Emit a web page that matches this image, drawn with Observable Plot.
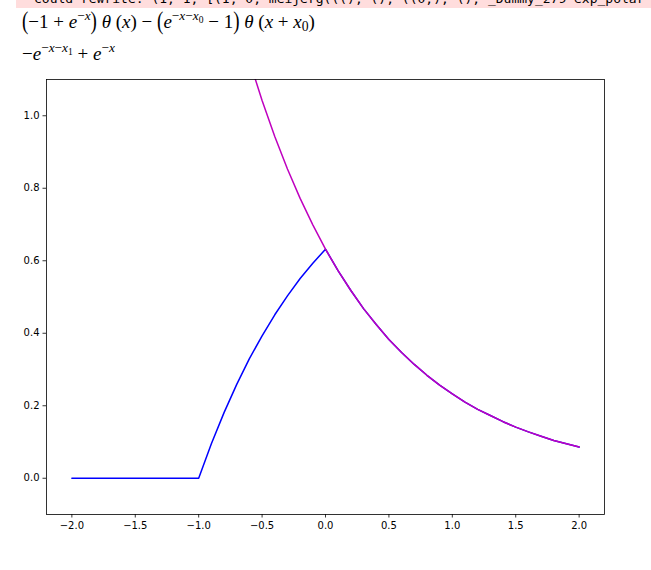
<!DOCTYPE html>
<html>
<head>
<meta charset="utf-8">
<script src="https://cdn.jsdelivr.net/npm/d3@7"></script>
<script src="https://cdn.jsdelivr.net/npm/@observablehq/plot@0.6"></script>
<style>
  html, body { margin: 0; padding: 0; background: #fff; }
  #wrap { position: relative; width: 651px; height: 570px; overflow: hidden; }
  #err { position: absolute; left: 16px; top: 0; width: 640px; height: 8px; background: #fdd; overflow: hidden; }
  #err span { position: absolute; left: 18px; top: -9px; font-family: "DejaVu Sans Mono", monospace; font-size: 13px; white-space: pre; color: #000; line-height: 15px; }
  .math { position: absolute; left: 22px; font-family: "Liberation Serif", "DejaVu Serif", serif; font-size: 19px; white-space: nowrap; color: #000; line-height: 22px; }
  .math i { font-style: italic; }
  .math sup { font-size: 0.7em; vertical-align: 0.6em; line-height: 0; }
  .math sup sub { font-size: 0.72em; vertical-align: -0.3em; line-height: 0; }
  .math sub { font-size: 0.72em; vertical-align: -0.25em; line-height: 0; }
  .math .p { display: inline-block; transform: scaleY(1.3); transform-origin: 50% 60%; font-size: 1.0em; }
  #m1 { top: 11px; }
  #m2 { top: 43px; }
  #chart { position: absolute; left: 0; top: 70px; }
</style>
</head>
<body>
<div id="wrap">
  <div id="err"><span>could rewrite: (1, 1, [(1, 0, meijerg(((), (), ((0,), (), _Dummy_279 exp_polar</span></div>
  <div class="math" id="m1"><span class="p">(</span>−1 + <i>e</i><sup>−<i>x</i></sup><span class="p">)</span> <i>θ</i> (<i>x</i>) − <span class="p">(</span><i>e</i><sup>−<i>x</i>−<i>x</i><sub>0</sub></sup> − 1<span class="p">)</span> <i>θ</i> (<i>x</i> + <i>x</i><sub>0</sub>)</div>
  <div class="math" id="m2">−<i>e</i><sup>−<i>x</i>−<i>x</i><sub>1</sub></sup> + <i>e</i><sup>−<i>x</i></sup></div>
  <div id="chart"></div>
</div>
<script>
// x samples
const xs = [-2.0,-1.9,-1.8,-1.7,-1.6,-1.5,-1.4,-1.3,-1.2,-1.1,-1.0,-0.9,-0.8,-0.7,-0.6,-0.5,-0.4,-0.3,-0.2,-0.1,0.0,0.1,0.2,0.3,0.4,0.5,0.6,0.7,0.8,0.9,1.0,1.1,1.2,1.3,1.4,1.5,1.6,1.7,1.8,1.9,2.0];
// blue series (first expression)
const blueY = [0,0,0,0,0,0,0,0,0,0,0,0.095,0.181,0.259,0.330,0.393,0.451,0.503,0.551,0.593,0.632,0.572,0.518,0.468,0.424,0.383,0.347,0.314,0.284,0.257,0.233,0.210,0.190,0.173,0.156,0.141,0.128,0.116,0.104,0.095,0.086];
// magenta series (second expression), runs off the top on the left
const magentaY = [4.67,4.23,3.82,3.46,3.13,2.83,2.56,2.32,2.10,1.90,1.72,1.555,1.407,1.273,1.152,1.042,0.943,0.853,0.772,0.699,0.632,0.572,0.518,0.468,0.424,0.383,0.347,0.314,0.284,0.257,0.233,0.210,0.190,0.173,0.156,0.141,0.128,0.116,0.104,0.095,0.086];
const xTicks = [-2.0,-1.5,-1.0,-0.5,0.0,0.5,1.0,1.5,2.0];
const yTicks = [0.0,0.2,0.4,0.6,0.8,1.0];

const blue = xs.map((x, i) => ({x, y: blueY[i]}));
const magenta = xs.map((x, i) => ({x, y: magentaY[i]}));
const fmt = d3.format(".1f");

const chart = Plot.plot({
  width: 651,
  height: 500,
  marginTop: 9,
  marginBottom: 56,
  marginLeft: 46,
  marginRight: 47,
  style: {fontFamily: "DejaVu Sans, sans-serif", fontSize: "10px", color: "#000", background: "#fff"},
  x: {domain: [-2.2, 2.2]},
  y: {domain: [-0.1, 1.1]},
  marks: [
    Plot.line(blue, {x: "x", y: "y", stroke: "#0000ff", strokeWidth: 1.5, clip: true}),
    Plot.line(magenta, {x: "x", y: "y", stroke: "#bf00bf", strokeWidth: 1.5, clip: true}),
    Plot.frame({stroke: "#000", strokeWidth: 0.8}),
    Plot.axisX({ticks: xTicks, tickFormat: fmt, tickSize: 3.5, tickPadding: 3.5, label: null, fontSize: 10, stroke: "#000", strokeWidth: 0.8}),
    Plot.axisY({ticks: yTicks, tickFormat: fmt, tickSize: 3.5, tickPadding: 3.5, label: null, fontSize: 10, stroke: "#000", strokeWidth: 0.8})
  ]
});
document.getElementById("chart").appendChild(chart);
</script>
</body>
</html>
